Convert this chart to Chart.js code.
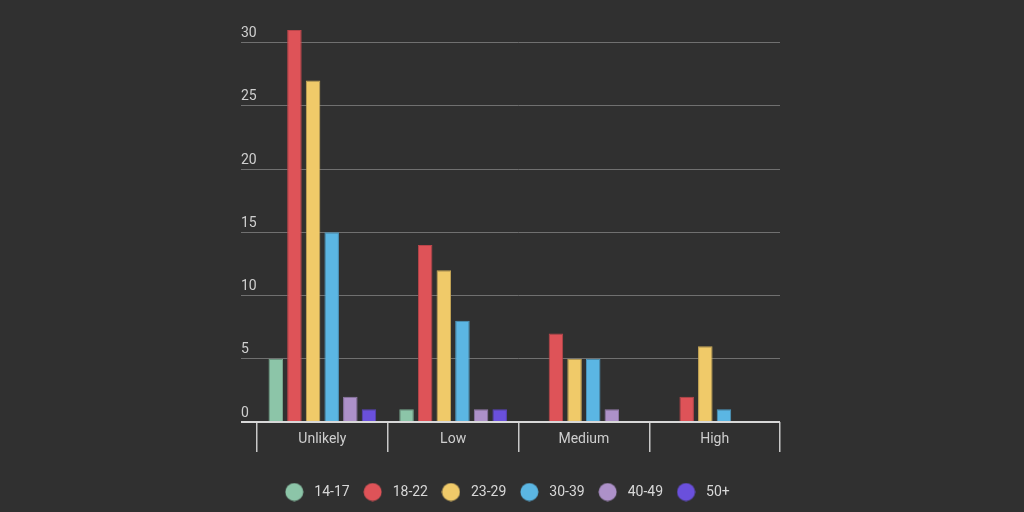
<!DOCTYPE html>
<html>
<head>
<meta charset="utf-8">
<script src="https://cdn.jsdelivr.net/npm/chart.js@4/dist/chart.umd.min.js"></script>
<style>
html,body{margin:0;padding:0;background:#303030;}
#wrap{width:1024px;height:512px;}
</style>
</head>
<body>
<div id="wrap"><canvas id="c" width="1024" height="512"></canvas></div>
<script>
const categories = ['Unlikely', 'Low', 'Medium', 'High'];
const seriesNames = ['14-17', '18-22', '23-29', '30-39', '40-49', '50+'];
const s1417 = [5, 1, 0, 0];
const s1822 = [31, 14, 7, 2];
const s2329 = [27, 12, 5, 6];
const s3039 = [15, 8, 5, 1];
const s4049 = [2, 1, 1, 0];
const s50 = [1, 1, 0, 0];
const yTicks = [0, 5, 10, 15, 20, 25, 30];
const yMax = 31;

const fills = ['#8cc5a8', '#de5358', '#f0ca69', '#5bb6e3', '#ad91c9', '#6a50dc'];
const borders = ['#77a88f', '#b9454a', '#c9a958', '#4c98bf', '#9179a8', '#5943b8'];
const values = [s1417, s1822, s2329, s3039, s4049, s50];

function dot(color) {
  const cv = document.createElement('canvas');
  cv.width = 19; cv.height = 19;
  const g = cv.getContext('2d');
  g.fillStyle = color;
  g.beginPath(); g.arc(9.5, 9.5, 9, 0, Math.PI * 2); g.fill();
  return cv;
}

Chart.defaults.font.family = 'Roboto, "Open Sans", sans-serif';
Chart.defaults.font.size = 14;
Chart.defaults.color = '#cfcfcf';

const bg = {
  id: 'bg',
  beforeDraw(chart) {
    const ctx = chart.ctx;
    ctx.save(); ctx.fillStyle = '#303030';
    ctx.fillRect(0, 0, chart.width, chart.height); ctx.restore();
  }
};

const legendShift = {
  id: 'legendShift',
  afterLayout(chart) {
    if (chart.legend) { chart.legend.left -= 5; chart.legend.right -= 5; }
  }
};

new Chart(document.getElementById('c'), {
  type: 'bar',
  data: {
    labels: categories,
    datasets: seriesNames.map((n, i) => ({
      label: n,
      data: values[i],
      backgroundColor: fills[i],
      borderColor: borders[i],
      borderWidth: 1,
      categoryPercentage: 0.855,
      barPercentage: 0.78
    }))
  },
  options: {
    responsive: false,
    animation: false,
    devicePixelRatio: 1,
    layout: { padding: { left: 241, right: 244, top: 30, bottom: 3 } },
    plugins: {
      tooltip: { enabled: false },
      legend: {
        position: 'bottom',
        labels: {
          usePointStyle: true,
          pointStyleWidth: 26,
          boxHeight: 14,
          padding: 10,
          color: '#d8d8d8',
          font: { size: 14 },
          generateLabels(chart) {
            const items = Chart.defaults.plugins.legend.labels.generateLabels(chart);
            items.forEach((it, i) => { it.pointStyle = dot(fills[i]); });
            return items;
          }
        }
      }
    },
    scales: {
      x: {
        border: { display: false },
        grid: {
          display: true,
          drawOnChartArea: false,
          drawTicks: true,
          tickLength: 30,
          offset: true,
          color: '#c8c8c8',
          lineWidth: 1.5
        },
        ticks: { padding: -21, color: '#cfcfcf', font: { size: 14 } },
        afterFit(s) { s.height = 53; }
      },
      y: {
        min: 0,
        max: yMax,
        border: { display: false },
        afterBuildTicks(s) { s.ticks = yTicks.map(v => ({ value: v })); },
        afterFit(s) { s.width = 16; },
        grid: {
          drawTicks: true,
          tickLength: 16,
          color: c => (c.tick && c.tick.value === 0) ? '#d8d8d8' : '#707070',
          lineWidth: c => (c.tick && c.tick.value === 0) ? 2 : 1
        },
        ticks: {
          crossAlign: 'far',
          padding: 0,
          labelOffset: -9,
          color: '#cfcfcf',
          font: { size: 14 }
        }
      }
    }
  },
  plugins: [bg, legendShift]
});
</script>
</body>
</html>
